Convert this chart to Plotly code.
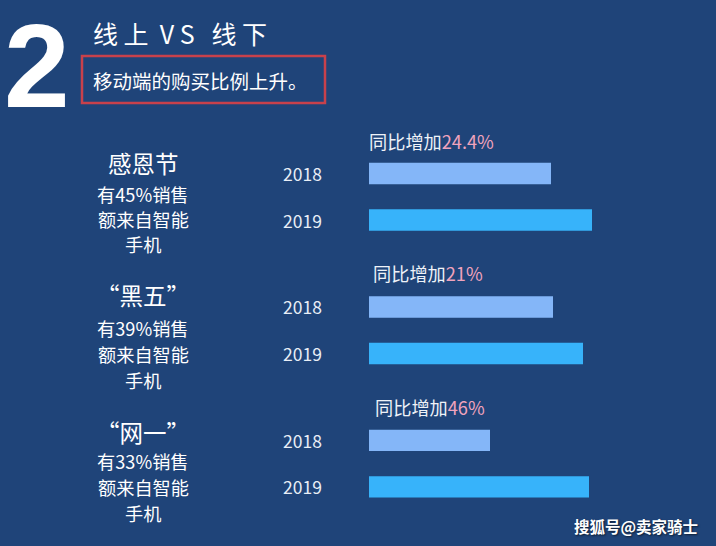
import plotly.graph_objects as go

# ---- data ----
events = ["感恩节", "“黑五”", "“网一”"]
shares = ["有45%销售", "有39%销售", "有33%销售"]
years = ["2018", "2019"]
growth = ["24.4%", "21%", "46%"]
bar_2018 = [182, 184, 121]
bar_2019 = [223, 214, 220]

W, H = 716, 546
BG = "#1f4479"
C2018 = "#84b6f8"
C2019 = "#37b3fa"
FONT = "Noto Sans CJK SC"

def py(p):  # pixel y -> paper
    return 1 - p / H

def px(p):
    return p / W

GROUP_STEP = 2.87
ys18 = [g * GROUP_STEP for g in range(len(events))]
ys19 = [g * GROUP_STEP + 1 for g in range(len(events))]

fig = go.Figure()
fig.add_trace(go.Bar(orientation="h", x=bar_2018, y=ys18, width=0.46,
                     marker=dict(color=C2018, line=dict(width=0)), name="2018",
                     hoverinfo="skip"))
fig.add_trace(go.Bar(orientation="h", x=bar_2019, y=ys19, width=0.46,
                     marker=dict(color=C2019, line=dict(width=0)), name="2019",
                     hoverinfo="skip"))

ann = []

def add(text, x, y, size, color="white", xanchor="center", family=FONT, **kw):
    ann.append(dict(text=text, x=px(x), y=py(y), xref="paper", yref="paper",
                    xanchor=xanchor, yanchor="middle", showarrow=False,
                    font=dict(family=family, size=size, color=color, **kw)))

# big "2"
add("<b>2</b>", 37, 66, 118, family="Liberation Sans")
# title
add("线 上  V S   线 下", 91, 33, 25, xanchor="left")
add("移动端的购买比例上升。", 91, 80, 19.5, xanchor="left")

group_top = [163, 295, 432]
line_y = [[194, 219, 244], [328, 354, 380], [461, 487, 513]]
growth_y = [141, 273, 407]
growth_x = [369, 373, 375]
for g in range(3):
    add(events[g], 143, group_top[g], 23.5)
    for t, yy in zip([shares[g], "额来自智能", "手机"], line_y[g]):
        add(t, 143, yy, 18.2)
    for yv, yr in zip([ys18[g], ys19[g]], years):
        ann.append(dict(text=yr, x=-45, y=yv, xref="x", yref="y", xanchor="right", yanchor="middle",
                        showarrow=False, font=dict(family=FONT, size=17.5, color="#e8eef6")))
    add("同比增加<span style='color:#f0a3bd'>" + growth[g] + "</span>",
        growth_x[g] - 2, growth_y[g], 18.2, color="#eef2f8", xanchor="left")

add("<b>搜狐号@卖家骑士</b>", 700, 526, 15.5, xanchor="right",
    shadow="1px 1px 2px rgba(0,0,0,0.6)")

fig.update_layout(
    width=W, height=H, margin=dict(l=0, r=0, t=0, b=0),
    paper_bgcolor=BG, plot_bgcolor=BG, showlegend=False, barmode="overlay",
    xaxis=dict(range=[-369, W - 369], visible=False, fixedrange=True),
    yaxis=dict(range=[(H - 173.5) / 46.5, -173.5 / 46.5], visible=False, fixedrange=True),
    annotations=ann,
    shapes=[dict(type="rect", xref="paper", yref="paper", x0=px(82), x1=px(325), y0=py(56), y1=py(103),
                 line=dict(color="#c8414b", width=2.5))],
)

fig.write_html("out.html")
